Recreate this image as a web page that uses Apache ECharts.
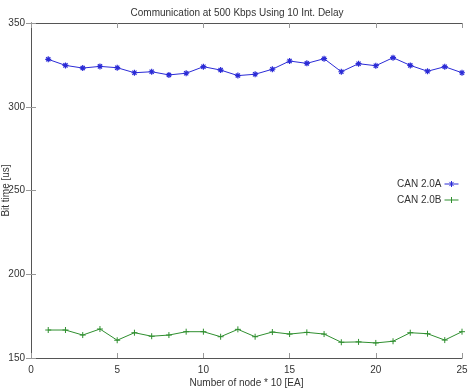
<!DOCTYPE html>
<html><head><meta charset="utf-8">
<script src="https://cdn.jsdelivr.net/npm/echarts@6/dist/echarts.min.js"></script>
<style>html,body{margin:0;padding:0;background:#fff}#c{width:474px;height:392px}</style>
</head><body><div id="c"></div>
<script>
const nodes = [1,2,3,4,5,6,7,8,9,10,11,12,13,14,15,16,17,18,19,20,21,22,23,24,25];
const can20A = [328.3,324.7,323.1,324.1,323.3,320.3,320.9,319.0,320.0,323.9,321.9,318.6,319.4,322.4,327.3,325.9,328.7,320.9,325.7,324.5,329.3,324.7,321.2,323.9,320.3];
const can20B = [166.7,166.7,163.7,167.3,160.6,165.1,163.0,163.7,165.7,165.7,162.7,167.1,162.7,165.5,164.3,165.3,164.3,159.4,159.6,159.0,160.0,165.1,164.5,160.7,165.7];
const xTicks = [0,5,10,15,20,25];
const yTicks = [150,200,250,300,350];

const blue = '#2b2bd6', green = '#2f8f2f';
const font = 'Liberation Sans, Arial, sans-serif';
const star = 'path://M0,5L10,5M5,0L5,10M1.5,1.5L8.5,8.5M8.5,1.5L1.5,8.5';
const plus = 'path://M0,5L10,5M5,0L5,10';
const starLeg = 'path://M0,4L14,4M7,1L7,7M4.9,1.9L9.1,6.1M9.1,1.9L4.9,6.1';
const plusLeg = 'path://M0,4L14,4M7,1L7,7';
const chart = echarts.init(document.getElementById('c'));
const tickStyle = {show:true, inside:true, length:5, lineStyle:{color:'#999'}};
chart.setOption({
  animation:false,
  title:{text:'Communication at 500 Kbps Using 10 Int. Delay', left:'center', top:3,
    textStyle:{fontFamily:font, fontSize:10, fontWeight:'normal', color:'#333'}},
  legend:{orient:'vertical', right:10, top:174, align:'right', itemWidth:14, itemHeight:8, itemGap:6,
    textStyle:{fontFamily:font, fontSize:10, color:'#333', padding:[0,-2,0,0]},
    data:[{name:'CAN 2.0A', icon:starLeg, itemStyle:{color:'transparent', borderColor:blue, borderWidth:1}},
          {name:'CAN 2.0B', icon:plusLeg, itemStyle:{color:'transparent', borderColor:green, borderWidth:1}}]},
  grid:{left:31, right:12, top:23, bottom:34, containLabel:false, outerBoundsMode:'none'},
  xAxis:[{type:'value', min:0, max:25, interval:5,
    name:'Number of node * 10 [EA]', nameLocation:'middle', nameGap:20, nameMoveOverlap:false,
    nameTextStyle:{fontFamily:font, fontSize:10, color:'#333'},
    axisLine:{lineStyle:{color:'#555'}}, axisTick:tickStyle, splitLine:{show:false},
    axisLabel:{fontFamily:font, fontSize:10, color:'#333', margin:7,
      formatter:v=>xTicks.includes(v)?String(v):''}},
   {type:'value', position:'top', min:0, max:25, interval:5,
    axisLine:{show:true, lineStyle:{color:'#555'}}, axisTick:tickStyle, axisLabel:{show:false}, splitLine:{show:false}}],
  yAxis:[{type:'value', min:150, max:350, interval:50,
    name:'Bit time [us]', nameLocation:'middle', nameGap:20, nameMoveOverlap:false,
    nameTextStyle:{fontFamily:font, fontSize:10, color:'#333'},
    axisLine:{show:true, lineStyle:{color:'#999'}}, axisTick:tickStyle, splitLine:{show:false},
    axisLabel:{fontFamily:font, fontSize:10, color:'#333', margin:6,
      formatter:v=>yTicks.includes(v)?String(v):''}},
   {type:'value', position:'right', min:150, max:350, interval:50,
    axisLine:{show:true, lineStyle:{color:'#555'}}, axisTick:tickStyle, axisLabel:{show:false}, splitLine:{show:false}}],
  series:[
    {name:'CAN 2.0A', type:'line', data:nodes.map((n,i)=>[n,can20A[i]]),
      symbol:star, symbolSize:6, lineStyle:{color:blue, width:1},
      itemStyle:{color:'transparent', borderColor:blue, borderWidth:1.2}},
    {name:'CAN 2.0B', type:'line', data:nodes.map((n,i)=>[n,can20B[i]]),
      symbol:plus, symbolSize:6, lineStyle:{color:green, width:1},
      itemStyle:{color:'transparent', borderColor:green, borderWidth:1}}
  ]
});
</script></body></html>
